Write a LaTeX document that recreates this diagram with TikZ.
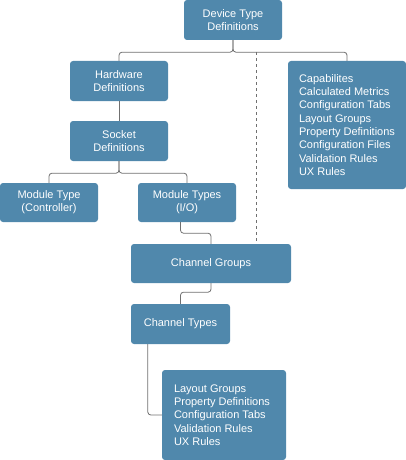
\documentclass[tikz,border=0pt]{standalone}
\usepackage{fontspec}
\setmainfont{Liberation Sans}
\definecolor{boxblue}{HTML}{5088AC}
\definecolor{linegray}{HTML}{707070}
\begin{document}
\begin{tikzpicture}[x=1pt,y=-1pt,
		box/.style={fill=boxblue,rounded corners=3pt,text=white,align=center,
			font=\fontsize{11}{13.3}\selectfont,inner sep=0pt},
		listbox/.style={box,align=left},
		link/.style={draw=linegray,line width=.8pt,rounded corners=3pt}]
	\useasboundingbox (0,0) rectangle (406,460);
	\node[box,minimum width=98pt,minimum height=40pt,anchor=center] (dev) at (233,20)
		{Device Type\\Definitions};
	\node[box,minimum width=98pt,minimum height=40pt,anchor=center] (hw) at (119,81)
		{Hardware\\Definitions};
	\node[box,minimum width=98pt,minimum height=40pt,anchor=center] (sock) at (119,141)
		{Socket\\Definitions};
	\node[box,minimum width=98pt,minimum height=39pt,anchor=center] (modc) at (49,202.5)
		{Module Type\\(Controller)};
	\node[box,minimum width=98pt,minimum height=39pt,anchor=center] (modio) at (187,202.5)
		{Module Types\\(I/O)};
	\node[listbox,minimum width=118pt,minimum height=128pt,anchor=center] (caps) at (347,125)
		{\parbox{96pt}{Capabilites\\Calculated Metrics\\Configuration Tabs\\Layout Groups\\
			Property Definitions\\Configuration Files\\Validation Rules\\UX Rules}};
	\node[box,minimum width=160pt,minimum height=39pt,anchor=center] (cg) at (211,263.5)
		{Channel Groups};
	\node[box,minimum width=99pt,minimum height=40pt,anchor=center] (ct) at (180.5,324)
		{Channel Types};
	\node[listbox,minimum width=124pt,minimum height=90pt,anchor=center] (lay) at (224,415)
		{\parbox{100pt}{Layout Groups\\Property Definitions\\Configuration Tabs\\
			Validation Rules\\UX Rules}};
	\coordinate (split) at (256,52);
	\draw[link] (dev.south) -- ++(0,12) -| (hw.north);
	\draw[link] (dev.south) -- ++(0,12) -| (caps.north);
	\draw[draw=linegray,line width=.8pt,dashed] (split) -- (split |- cg.north);
	\draw[link] (hw.south) -- (sock.north);
	\draw[link] (sock.south) -- ++(0,12) -| (modc.north);
	\draw[link] (sock.south) -- ++(0,12) -| (modio.north);
	\draw[link] ([xshift=-6.5pt]modio.south) -- ++(0,11) -| (cg.north);
	\draw[link] (cg.south) -- ++(0,9) -| (ct.north);
	\draw[link] ([xshift=17pt]ct.south west) |- (lay.west);
\end{tikzpicture}
\end{document}
